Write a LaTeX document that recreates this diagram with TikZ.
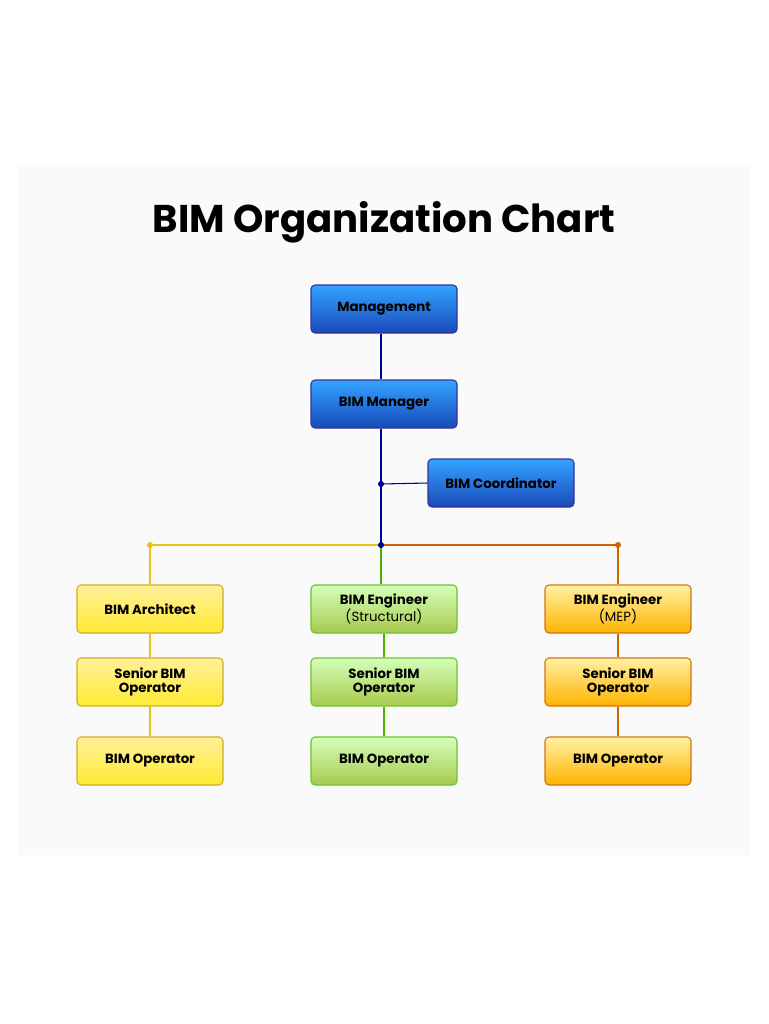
\documentclass[tikz,border=0pt]{standalone}
\usepackage{fontspec}
\setmainfont{Poppins}
\begin{document}
\begin{tikzpicture}[x=0.75pt,y=-0.75pt,
 box/.style={rounded corners=3pt,minimum width=109.5pt,minimum height=36pt,align=center,font=\fontsize{10}{11}\selectfont\bfseries,line width=0.8pt,text=black},
 blue/.style={box,draw=blue!50!black!80,top color=blue!45!cyan!80,bottom color=blue!70!cyan!70!black!90},
 ylw/.style={box,draw=yellow!60!orange!80!black,top color=yellow!70!orange!40,bottom color=yellow!80!orange!80},
 grn/.style={box,draw=green!40!olive!80,top color=lime!50!green!30!white!90,bottom color=lime!70!green!40!olive!70},
 org/.style={box,draw=orange!80!black!90,top color=yellow!70!orange!40!white!90,bottom color=orange!60!yellow},
 dot/.style={circle,fill,inner sep=1.6pt}]
\useasboundingbox (0,0) rectangle (768,1024);
\fill[white] (0,0) rectangle (768,1024);
\fill[black!2] (18,165) rectangle (750,855);
\node[font=\fontsize{29}{32}\selectfont\bfseries] (title) at (384,222) {BIM Organization Chart};
\node[blue] (m) at (384,309) {Management};
\node[blue] (bm) at (384,404) {BIM Manager};
\node[blue] (bc) at (501,483) {BIM Coordinator};
\coordinate (j1) at (381,484);
\coordinate (j2) at (381,545);
\coordinate (jl) at (150,545);
\coordinate (jr) at (618,545);
\node[ylw] (a1) at (150,609) {BIM Architect};
\node[ylw] (a2) at (150,682) {Senior BIM\\Operator};
\node[ylw] (a3) at (150,761) {BIM Operator};
\node[grn] (g1) at (384,609) {BIM Engineer\\{\normalfont(Structural)}};
\node[grn] (g2) at (384,682) {Senior BIM\\Operator};
\node[grn] (g3) at (384,761) {BIM Operator};
\node[org] (o1) at (618,609) {BIM Engineer\\{\normalfont(MEP)}};
\node[org] (o2) at (618,682) {Senior BIM\\Operator};
\node[org] (o3) at (618,761) {BIM Operator};
\begin{scope}[on background layer/.style={}]
\draw[blue!60!black,line width=0.8pt] (m.south -| j1) -- (bm.north -| j1);
\draw[blue!60!black,line width=0.8pt] (bm.south -| j1) -- (j2);
\draw[blue!60!black,line width=0.8pt] (j1) -- (bc.west);
\draw[yellow!70!orange!90!black,line width=0.8pt] (j2) -- (jl) -- (a1.north);
\draw[orange!80!black,line width=0.8pt] (j2) -- (jr) -- (o1.north);
\draw[green!40!olive,line width=0.8pt] (j2) -- (g1.north -| j2);
\draw[yellow!70!orange!90!black,line width=0.8pt] (a1) -- (a2) (a2) -- (a3);
\draw[green!40!olive,line width=0.8pt] (g1) -- (g2) (g2) -- (g3);
\draw[orange!80!black,line width=0.8pt] (o1) -- (o2) (o2) -- (o3);
\end{scope}
\node[dot,blue!60!black] at (j1) {};
\node[dot,blue!60!black] at (j2) {};
\node[dot,yellow!70!orange!90!black] at (jl) {};
\node[dot,orange!80!black] at (jr) {};
\end{tikzpicture}
\end{document}
